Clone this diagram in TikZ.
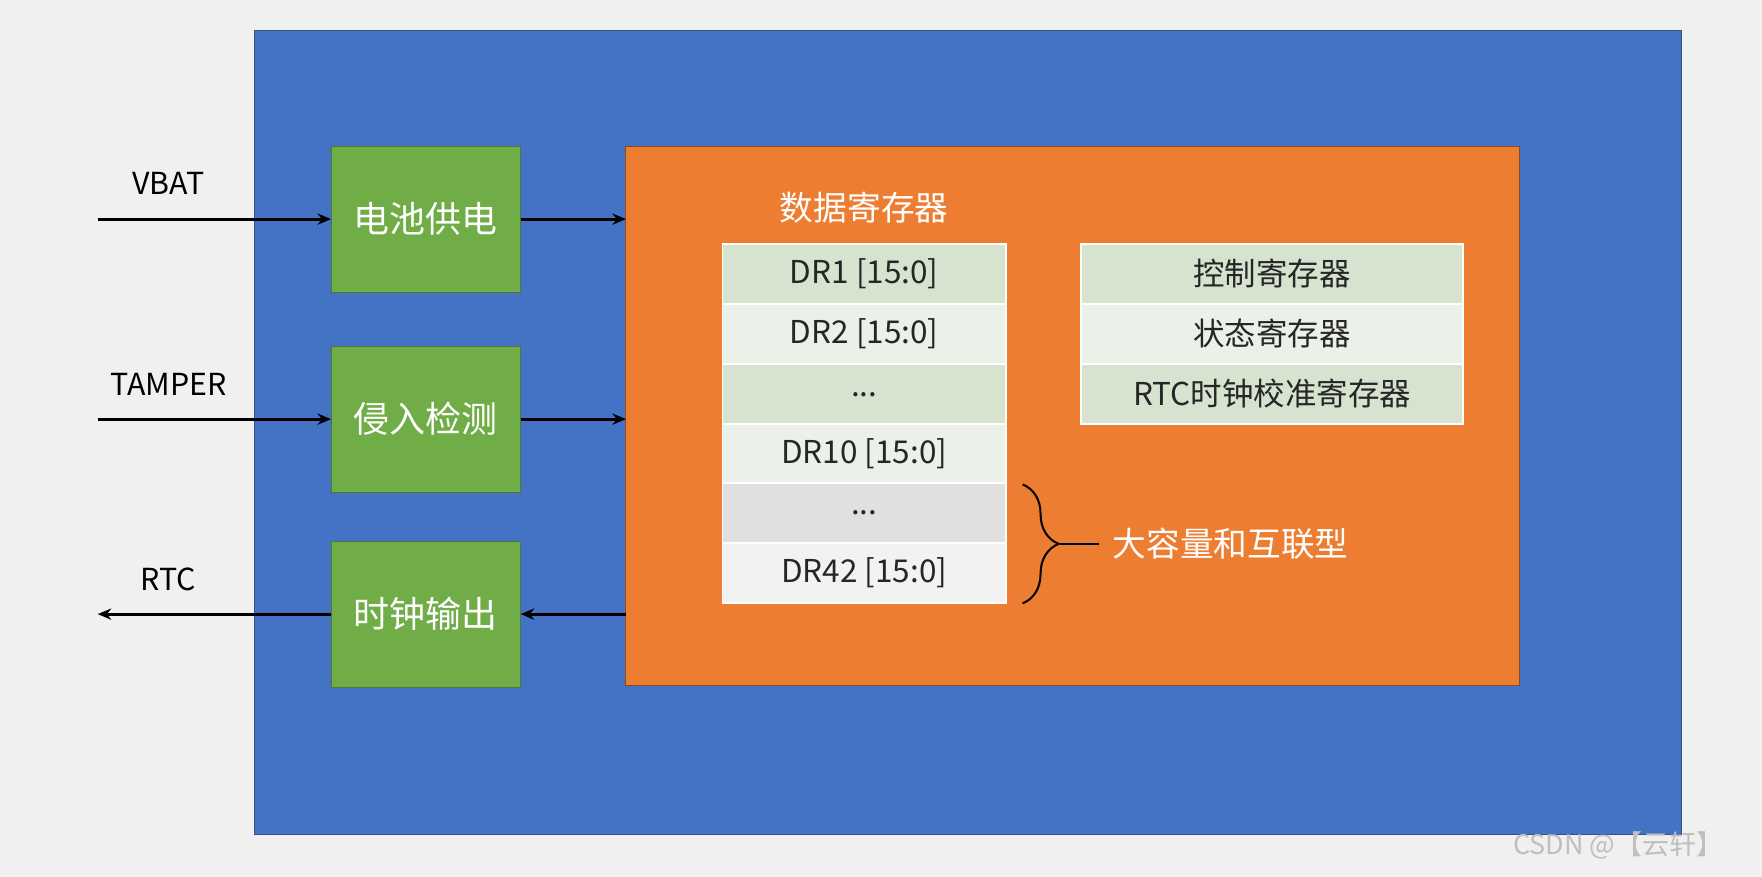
\documentclass[tikz,border=0pt]{standalone}
\usepackage{fontspec}
\setmainfont{Noto Sans CJK SC}
\usetikzlibrary{arrows.meta,decorations.pathreplacing}
\definecolor{bg}{HTML}{F0F0F0}
\definecolor{blu}{HTML}{4472C4}
\definecolor{grn}{HTML}{70AD47}
\definecolor{org}{HTML}{ED7D31}
\definecolor{ra}{HTML}{D5E3CF}
\definecolor{rb}{HTML}{EBF1E9}
\definecolor{rc}{HTML}{E0E0E0}
\definecolor{rd}{HTML}{F2F2F2}
\begin{document}
\begin{tikzpicture}[x=0.5pt,y=-0.5pt,
  gbox/.style={draw=grn!70!black,fill=grn,minimum width=84pt,minimum height=65pt,text=white,font=\fontsize{16}{18}\selectfont,inner sep=0},
  row/.style={draw=white,line width=0.8pt,minimum width=126pt,minimum height=26.7pt,font=\fontsize{14}{16}\selectfont,inner sep=0,text=black!85},
  rrow/.style={row,minimum width=170pt},
  arr/.style={line width=1.3pt,-{Stealth[length=6pt,width=5pt]}},
  lab/.style={font=\fontsize{13.5}{15}\selectfont}]
\fill[bg] (0,0) rectangle (1568,780);
\useasboundingbox (0,0) rectangle (1568,780);
\node[draw=blu!70!black,fill=blu,minimum width=635pt,minimum height=358pt,inner sep=0] (blue) at (861,385) {};
\node[draw=org!60!black,fill=org,minimum width=397.5pt,minimum height=240pt,inner sep=0] (reg) at (954.5,370) {};
\node[gbox] (bat) at (379,195) {电池供电};
\node[gbox] (tam) at (379,373) {侵入检测};
\node[gbox] (clk) at (379,546.5) {时钟输出};
\coordinate (vin) at (87,195);
\coordinate (tin) at (87,373);
\coordinate (rout) at (87,546.5);
\coordinate (r1) at (557,195);
\coordinate (r2) at (557,373);
\coordinate (r3) at (557,546.5);
\draw[arr] (vin) -- (bat.west);
\draw[arr] (tin) -- (tam.west);
\draw[arr] (clk.west) -- (rout);
\draw[arr] (bat.east) -- (r1);
\draw[arr] (tam.east) -- (r2);
\draw[arr] (r3) -- (clk.east);
\node[lab] (lv) at (150,163) {VBAT};
\node[lab] (lt) at (150,342) {TAMPER};
\node[lab] (lr) at (150,516) {RTC};
\node[text=white,font=\fontsize{15}{17}\selectfont] (dt) at (769,185) {数据寄存器};
\node[row,fill=ra] (d1) at (769,243.5) {DR1 [15:0]};
\node[row,fill=rb] (d2) at (769,297) {DR2 [15:0]};
\node[row,fill=ra] (d3) at (769,351) {...};
\node[row,fill=rb] (d4) at (769,404) {DR10 [15:0]};
\node[row,fill=rc] (d5) at (769,456.5) {...};
\node[row,fill=rd] (d6) at (769,510) {DR42 [15:0]};
\node[rrow,fill=ra] (c1) at (1132,243.5) {控制寄存器};
\node[rrow,fill=rb] (c2) at (1132,297) {状态寄存器};
\node[rrow,fill=ra] (c3) at (1132,350.5) {RTC时钟校准寄存器};
\coordinate (bt) at (910,431);
\coordinate (bb) at (910,537);
\draw[black,line width=0.9pt,decorate,decoration={brace,amplitude=16pt}] (bt) -- (bb);
\coordinate (tip) at (943,484);
\coordinate (tip2) at (978,484);
\draw[black,line width=0.9pt] (tip) -- (tip2);
\node[anchor=west,text=white,font=\fontsize{15}{17}\selectfont] (big) at (983,484) {大容量和互联型};
\node[text=black!25,font=\fontsize{12}{14}\selectfont] (wm) at (1440,752) {CSDN @【云轩】};
\end{tikzpicture}
\end{document}
